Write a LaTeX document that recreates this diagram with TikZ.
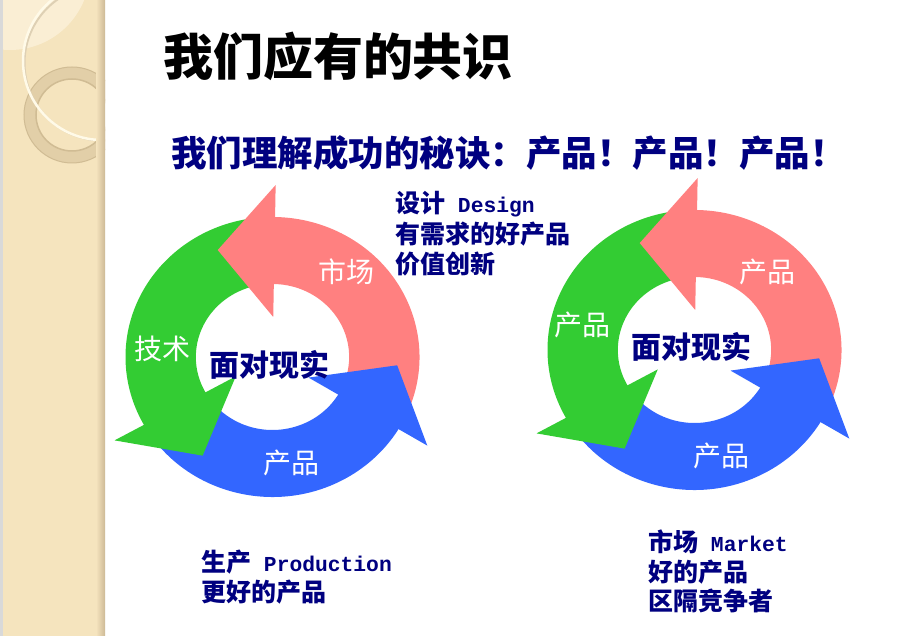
\documentclass[tikz,border=0pt]{standalone}
\usepackage{fontspec}
\newfontfamily\cjk{Noto Sans CJK SC}
\newfontfamily\mono{Liberation Mono}
\definecolor{navy}{RGB}{0,0,128}
\definecolor{pinkc}{RGB}{255,128,128}
\definecolor{greenc}{RGB}{51,204,51}
\definecolor{bluec}{RGB}{51,102,255}
\definecolor{stripc}{RGB}{245,228,190}
\definecolor{stripl}{RGB}{250,238,212}
\definecolor{stripd}{RGB}{205,185,150}
\definecolor{ringc}{RGB}{226,207,168}
\definecolor{ringe}{RGB}{208,188,148}
\definecolor{creamc}{RGB}{255,250,232}
\tikzset{
  lbl/.style={inner sep=0pt, text=white, font=\cjk\fontsize{28}{30}\selectfont},
  ctr/.style={inner sep=0pt, text=navy, font=\cjk\bfseries\fontsize{30}{32}\selectfont},
  blk/.style={inner sep=0pt, anchor=base west, text=navy, font=\cjk\bfseries\fontsize{25}{30}\selectfont},
  cyc/.pic={
    \fill[pinkc] (-28:140) arc[start angle=-28,end angle=90,radius=140] -- (90:73) arc[start angle=90,end angle=-28,radius=73] -- cycle;
    \fill[greenc] (92:140) arc[start angle=92,end angle=210,radius=140] -- (210:73) arc[start angle=210,end angle=92,radius=73] -- cycle;
    \fill[bluec] (212:140) arc[start angle=212,end angle=330,radius=140] -- (330:73) arc[start angle=330,end angle=212,radius=73] -- cycle;
    \fill[pinkc] (89:172) -- (116:119) -- (89:40) -- cycle;
    \fill[greenc] (209:172) -- (236:119) -- (209:40) -- cycle;
    \fill[bluec] (329:172) -- (356:119) -- (329:40) -- cycle;
  }
}
\newcommand\lat[1]{{\mono\bfseries\fontsize{21.3}{25}\selectfont#1}}
\begin{document}
\begin{tikzpicture}[x=1pt,y=1pt]
\useasboundingbox (0,0) rectangle (922,636);
\fill[white] (0,0) rectangle (922,636);
% left decorative strip
\fill[stripc] (0,0) rectangle (105,636);
\begin{scope}
  \clip (3,0) rectangle (105,636);
  \fill[stripl] (10,666) circle (80);
  \draw[ringc, line width=12] (72,521) circle (42);
  \draw[ringe, line width=1] (72,521) circle (48);
  \draw[ringe, line width=1.5] (72,521) circle (36);
  \draw[ringe!70, line width=2] (102,573) circle (77.5);
  \draw[creamc, line width=2.5] (102,575) circle (79);
\end{scope}
\shade[left color=stripc, right color=stripd] (96,0) rectangle (105,636);
\fill[gray!30] (0,0) rectangle (3,636);

% title
\node[inner sep=0pt, text=black, font=\cjk\bfseries\fontsize{50}{52}\selectfont] (title) at (338,580) {我们应有的共识};

% subtitle
\node[inner sep=0pt, anchor=base west, text=navy, font=\cjk\bfseries\fontsize{35.5}{38}\selectfont] (sub) at (171,469.5) {我们理解成功的秘诀：产品！产品！产品！};

% cycles
\pic[xscale=1.05] (cl) at (272.5,279) {cyc};
\pic[xscale=1.05] (cr) at (694.5,286) {cyc};

% left cycle labels
\node[lbl] (l1) at (346.5,364) {市场};
\node[lbl] (l2) at (162,287.5) {技术};
\node[lbl] (l3) at (291.5,173.5) {产品};
\node[ctr] (lc) at (269,271) {面对现实};

% right cycle labels
\node[lbl] (r1) at (767.5,364.5) {产品};
\node[lbl] (r2) at (582.5,311) {产品};
\node[lbl] (r3) at (721.5,180.5) {产品};
\node[ctr] (rc) at (691,289) {面对现实};

% text block: design
\node[blk] (d1) at (395,423.5) {设计\lat{ Design}};
\node[blk] (d2) at (395,392.5) {有需求的好产品};
\node[blk] (d3) at (395,362.5) {价值创新};

% text block: production
\node[blk] (p1) at (201,64) {生产\lat{ Production}};
\node[blk] (p2) at (201,34) {更好的产品};

% text block: market
\node[blk] (m1) at (648,84.5) {市场\lat{ Market}};
\node[blk] (m2) at (648,54.5) {好的产品};
\node[blk] (m3) at (648,25.5) {区隔竞争者};
\end{tikzpicture}
\end{document}
